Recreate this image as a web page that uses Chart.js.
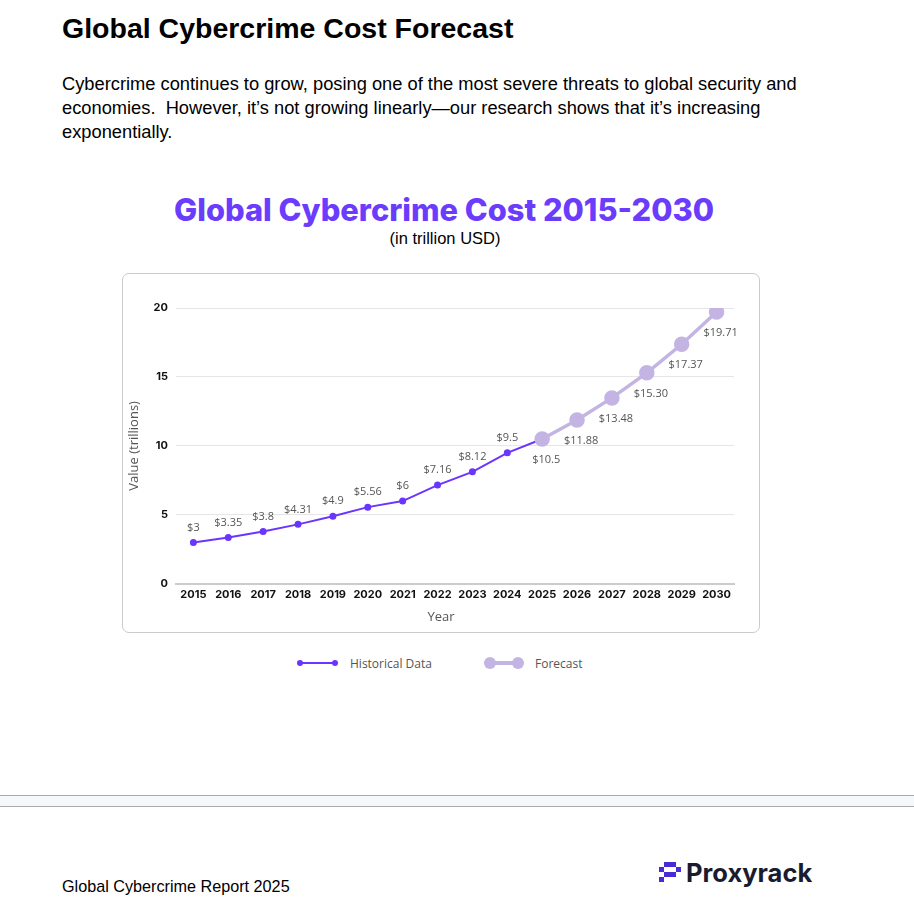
<!DOCTYPE html>
<html>
<head>
<meta charset="utf-8">
<script src="https://cdn.jsdelivr.net/npm/chart.js@4.4.1/dist/chart.umd.min.js"></script>
<style>
  body { margin: 0; background: #fff; width: 914px; height: 898px; position: relative; overflow: hidden; font-family: "Liberation Sans", Arial, sans-serif; }
  h1 { position: absolute; left: 62px; top: 12px; margin: 0; font-size: 28.5px; font-weight: bold; color: #000; }
  .intro { position: absolute; left: 62px; top: 72px; margin: 0; font-size: 18.3px; line-height: 24px; color: #000; }
  .ctitle { position: absolute; left: 0; width: 888px; top: 191px; text-align: center; font-family: Inter, sans-serif; font-weight: 800; font-size: 30.8px; color: #6b3cfc; }
  .csub { position: absolute; left: 0; width: 890px; top: 229px; text-align: center; font-size: 16.5px; color: #000; }
  .box { position: absolute; left: 122px; top: 273px; width: 636px; height: 358px; border: 1.5px solid #cbcbcb; border-radius: 7px; }
  #c { position: absolute; left: 0; top: 0; }
  .xtitle { position: absolute; left: 122px; width: 638px; top: 607px; text-align: center; font-family: "Open Sans", sans-serif; font-size: 13px; color: #555; }
  .legend { position: absolute; top: 655px; font-family: "Open Sans", sans-serif; font-size: 12px; color: #555; }
  .band { position: absolute; left: 0; width: 914px; top: 795px; height: 10px; background: #f4f8fb; border-top: 1px solid #a9abae; border-bottom: 1px solid #a9abae; }
  .foot { position: absolute; left: 62px; top: 877px; font-size: 16.2px; color: #000; }
  .brand { position: absolute; left: 686px; top: 857px; font-family: Inter, sans-serif; font-weight: 700; font-size: 25.5px; color: #1b1b2f; }
</style>
</head>
<body>
<h1>Global Cybercrime Cost Forecast</h1>
<p class="intro">Cybercrime continues to grow, posing one of the most severe threats to global security and<br>economies.&nbsp; However, it’s not growing linearly—our research shows that it’s increasing<br>exponentially.</p>
<div class="ctitle">Global Cybercrime Cost 2015-2030</div>
<div class="csub">(in trillion USD)</div>
<div class="box"><canvas id="c" width="636" height="358"></canvas></div>
<div class="xtitle">Year</div>

<svg class="legend" style="left:296px;top:656px" width="44" height="14">
  <line x1="4" y1="7" x2="39" y2="7" stroke="#6a35ff" stroke-width="2"/>
  <circle cx="4" cy="7" r="3" fill="#6a35ff"/><circle cx="39" cy="7" r="3" fill="#6a35ff"/>
</svg>
<div class="legend" style="left:350px">Historical Data</div>
<svg class="legend" style="left:482px;top:654px" width="46" height="18">
  <line x1="8" y1="9" x2="36" y2="9" stroke="#c3b4e4" stroke-width="4"/>
  <circle cx="8" cy="9" r="6" fill="#c3b4e4"/><circle cx="36" cy="9" r="6" fill="#c3b4e4"/>
</svg>
<div class="legend" style="left:535px">Forecast</div>

<div class="band"></div>
<div class="foot">Global Cybercrime Report 2025</div>
<svg style="position:absolute;left:659px;top:861px" width="22" height="22">
  <rect x="5" y="1" width="12" height="5" fill="#4a2bd8"/>
  <rect x="0" y="6" width="5" height="5" fill="#4a2bd8"/>
  <rect x="17" y="6" width="5" height="5" fill="#4a2bd8"/>
  <rect x="5" y="11" width="12" height="5" fill="#4a2bd8"/>
  <rect x="0" y="16" width="5" height="5" fill="#4a2bd8"/>
</svg>
<div class="brand">Proxyrack</div>

<script>
// Years on the x axis
const years = ['2015', '2016', '2017', '2018', '2019', '2020', '2021', '2022',
  '2023', '2024', '2025', '2026', '2027', '2028', '2029', '2030'];

// Historical series (runs into 2025 where the forecast picks up)
const historical = [3, 3.35, 3.8, 4.31, 4.9, 5.56, 6, 7.16, 8.12, 9.5, 10.5,
  null, null, null, null, null];
const historicalLabels = ['$3', '$3.35', '$3.8', '$4.31', '$4.9', '$5.56', '$6', '$7.16',
  '$8.12', '$9.5', '', '', '', '', '', ''];

// Forecast series
const forecast = [null, null, null, null, null, null, null, null, null, null,
  10.5, 11.88, 13.48, 15.30, 17.37, 19.71];
const forecastLabels = ['', '', '', '', '', '', '', '', '', '',
  '$10.5', '$11.88', '$13.48', '$15.30', '$17.37', '$19.71'];

const yTicks = [0, 5, 10, 15, 20];

// draws the "$x" text next to each point
const valueLabels = {
  id: 'valueLabels',
  afterDatasetsDraw(chart) {
    const ctx = chart.ctx;
    ctx.save();
    ctx.font = '11px "Open Sans"';
    ctx.fillStyle = '#555';
    ctx.textAlign = 'center';
    ctx.textBaseline = 'middle';
    chart.data.datasets.forEach((ds, i) => {
      const meta = chart.getDatasetMeta(i);
      meta.data.forEach((pt, j) => {
        const txt = ds.pointLabels[j];
        if (!txt) return;
        if (ds.label === 'Forecast') {
          ctx.fillText(txt, pt.x + 4, pt.y + 21);
        } else {
          ctx.fillText(txt, pt.x, pt.y - 15);
        }
      });
    });
    ctx.restore();
  }
};

const ctx = document.getElementById('c').getContext('2d');
new Chart(ctx, {
  type: 'line',
  data: {
    labels: years,
    datasets: [{
      label: 'Historical Data',
      data: historical,
      pointLabels: historicalLabels,
      borderColor: '#6a35ff',
      backgroundColor: '#6a35ff',
      borderWidth: 2,
      pointRadius: 2.5,
      pointHoverRadius: 2.5,
      order: 1,
      fill: false
    }, {
      label: 'Forecast',
      data: forecast,
      pointLabels: forecastLabels,
      borderColor: '#c3b4e4',
      backgroundColor: '#c3b4e4',
      borderWidth: 3.5,
      pointRadius: 6,
      pointHoverRadius: 6,
      order: 0,
      fill: false
    }]
  },
  options: {
    responsive: false,
    animation: false,
    layout: { padding: { left: 3, right: 25, top: 34, bottom: 27 } },
    plugins: {
      legend: { display: false },
      tooltip: { enabled: false }
    },
    scales: {
      x: {
        offset: true,
        grid: { display: false, drawTicks: false },
        border: { color: '#cccccc', width: 2 },
        ticks: { color: '#111', padding: 4, autoSkip: false, maxRotation: 0, minRotation: 0, font: { family: 'Inter', weight: 'bold', size: 11 } }
      },
      y: {
        min: 0,
        max: 20,
        afterBuildTicks: axis => { axis.ticks = yTicks.map(v => ({ value: v })); },
        grid: { color: '#e6e6e6', drawTicks: false },
        border: { display: false },
        ticks: { color: '#111', padding: 8, font: { family: 'Inter', weight: 'bold', size: 11 } },
        title: { display: true, text: 'Value (trillions)', color: '#555', padding: { top: 0, bottom: 4 }, font: { family: 'Open Sans', size: 13 } }
      }
    }
  },
  plugins: [valueLabels]
});
</script>
</body>
</html>
